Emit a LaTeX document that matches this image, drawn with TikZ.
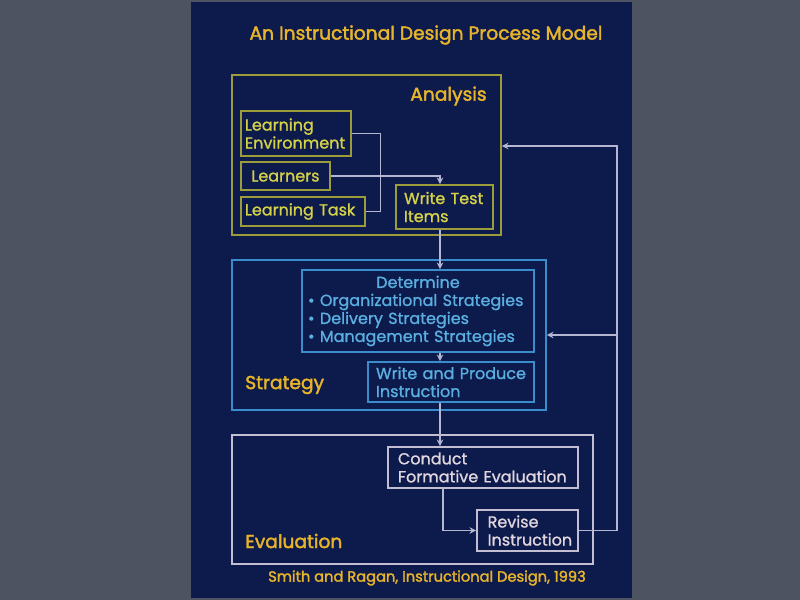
\documentclass[tikz,border=0pt]{standalone}
\usepackage{fontspec}
\setmainfont{Poppins}
\newfontfamily\medfont{Poppins}[FakeBold=1.2]
\newfontfamily\hvyfont{Poppins}[FakeBold=2]
\usetikzlibrary{arrows.meta}
\definecolor{bg}{HTML}{4E5361}
\definecolor{navy}{HTML}{0C1A4C}
\definecolor{gold}{HTML}{E8B42A}
\definecolor{olive}{HTML}{9C9C3A}
\definecolor{ylw}{HTML}{D6D248}
\definecolor{sblue}{HTML}{3A8CCC}
\definecolor{lblue}{HTML}{5AAEE0}
\definecolor{lav}{HTML}{C4BED2}
\definecolor{pinkw}{HTML}{E2D6DE}
\definecolor{connc}{HTML}{B4B6D2}
\begin{document}
\begin{tikzpicture}[x=0.75pt,y=-0.75pt,
  frame/.style={draw, line width=1.3pt, inner sep=0pt},
  boxtxt/.style={line width=1.3pt, inner ysep=2pt, align=left},
  abox/.style={boxtxt, draw=olive, text=ylw, font=\medfont\fontsize{12}{13.5}\selectfont},
  sbox/.style={boxtxt, draw=sblue, text=lblue, font=\medfont\fontsize{12}{13.5}\selectfont},
  ebox/.style={boxtxt, draw=lav, text=pinkw, font=\medfont\fontsize{12}{13.5}\selectfont},
  lbl/.style={text=gold, font=\hvyfont\fontsize{14}{16}\selectfont, inner sep=0pt},
  conn/.style={draw=connc, line width=1.3pt},
  arr/.style={conn, -{Stealth[length=5pt,width=5pt]}}]
\useasboundingbox (0,0) rectangle (800,600);
\fill[bg] (0,0) rectangle (800,600);
\fill[navy] (191,2) rectangle (632,598);
% title
\node[lbl] (title) at (426,35) {An Instructional Design Process Model};
% frames
\node[frame, draw=olive, minimum width=201.75pt, minimum height=120pt] (ana) at (366.5,155) {};
\node[frame, draw=sblue, minimum width=235.5pt, minimum height=112.5pt] (str) at (389,335) {};
\node[frame, draw=lav, minimum width=270.75pt, minimum height=96.75pt] (eva) at (412.5,499.5) {};
\node[lbl] (anal) at (448.5,96) {Analysis};
\node[lbl, anchor=west] (strl) at (245,385) {Strategy};
\node[lbl, anchor=west] (eval) at (245,541) {Evaluation};
% analysis boxes
\node[abox, inner xsep=3pt, text width=76.5pt, minimum height=33.75pt] (le) at (296,133.5) {Learning\\Environment};
\node[abox, align=center, inner xsep=0pt, text width=66.75pt, minimum height=21pt] (lr) at (285.5,176) {Learners};
\node[abox, inner xsep=3pt, text width=87pt, minimum height=21.75pt] (lt) at (303,211.5) {Learning Task};
\node[abox, inner xsep=6pt, text width=60.75pt, minimum height=33pt] (wt) at (444.5,207) {Write Test\\Items};
% strategy boxes
\node[sbox, inner xsep=4.5pt, text width=165pt, minimum height=61.5pt] (det) at (418,311)
  {\makebox[\linewidth][c]{Determine}\\• Organizational Strategies\\• Delivery Strategies\\• Management Strategies};
\node[sbox, inner xsep=6pt, text width=112.5pt, minimum height=30pt] (wpi) at (451,382) {Write and Produce\\Instruction};
% evaluation boxes
\node[ebox, inner xsep=7.5pt, text width=127.5pt, minimum height=30.75pt] (cfe) at (483,467.5) {Conduct\\Formative Evaluation};
\node[ebox, inner xsep=8pt, text width=59.75pt, minimum height=30.75pt] (ri) at (527.5,530.5) {Revise\\Instruction};
% footer
\node[lbl, font=\hvyfont\fontsize{11}{12}\selectfont] (foot) at (427,578) {Smith and Ragan, Instructional Design, 1993};
% connectors
\coordinate (j1) at (380.5,176.5);
\coordinate (cx) at (440,0);
\coordinate (cx2) at (443,0);
\coordinate (fb) at (617,0);
\coordinate (fy) at (0,146);
\draw[conn] (le.east) -| (j1 |- lt.east) -- (lt.east);
\draw[arr] (lr.east) -| (cx |- wt.north);
\draw[arr] (cx |- wt.south) -- (cx |- det.north);
\draw[arr] (cx |- det.south) -- (cx |- wpi.north);
\draw[arr] (cx |- wpi.south) -- (cx |- cfe.north);
\draw[arr] (cx2 |- cfe.south) |- (ri.west);
\draw[arr] (ri.east) -| (fb |- fy) -- (ana.east |- fy);
\draw[arr] (fb |- str.east) -- (str.east);
\end{tikzpicture}
\end{document}
